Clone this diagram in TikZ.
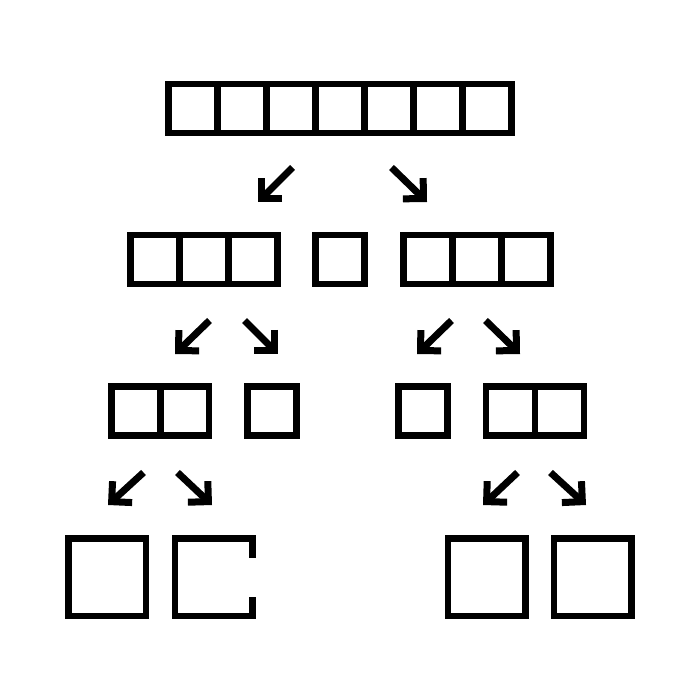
\documentclass[tikz,border=0pt]{standalone}
\usetikzlibrary{arrows.meta,calc}
\tikzset{
  cell/.style={draw=black, line width=6.5pt, minimum width=49pt, minimum height=49pt, inner sep=0pt, outer sep=0pt, line join=miter},
  bigcell/.style={cell, minimum width=77.5pt, minimum height=77.5pt},
  bigopen/.style={bigcell, draw=none},
  arr/.style={line width=7pt, line cap=butt, -{Straight Barb[length=14.5pt, width=29pt, line width=7pt, line join=miter, line cap=butt]}}
}
\begin{document}
\begin{tikzpicture}[x=1pt, y=-1pt]
\useasboundingbox[fill=white] (0,0) rectangle (700,700);
% top row
\foreach \i [count=\k] in {193,242,291,340,389,438,487} {
  \node[cell] (t\k) at (\i,108.5) {};
}
% row 2
\node[cell] (l1) at (154.75,259.5) {};
\node[cell] (l2) at (203.75,259.5) {};
\node[cell] (l3) at (252.75,259.5) {};
\node[cell] (m1) at (340,259.5) {};
\node[cell] (r1) at (427.75,259.5) {};
\node[cell] (r2) at (476.75,259.5) {};
\node[cell] (r3) at (525.75,259.5) {};
% row 3
\node[cell] (ll1) at (135.75,411) {};
\node[cell] (ll2) at (184.5,411) {};
\node[cell] (lr1) at (272,411) {};
\node[cell] (rl1) at (423,411) {};
\node[cell] (rr1) at (510.6,411) {};
\node[cell] (rr2) at (559.4,411) {};
% row 4
\node[bigcell] (b1) at (107,577) {};
\node[bigopen] (b2) at (213.5,577) {};
\node[bigcell] (b3) at (486.5,577) {};
\node[bigcell] (b4) at (592.5,577) {};
\draw[line width=6.5pt, line join=miter, line cap=butt]
  ($(b2.east)+(0,-19.5)$) -- (b2.north east) -- (b2.north west) -- (b2.south west) -- (b2.south east) -- ($(b2.east)+(0,19.5)$);
% arrows
\coordinate (s1) at (292.5,167.5); \coordinate (e1) at (258,202);
\coordinate (s2) at (391.5,167.5); \coordinate (e2) at (427,202);
\coordinate (s3) at (209.5,320.5); \coordinate (e3) at (175,354);
\coordinate (s4) at (244.5,320.5); \coordinate (e4) at (278,354);
\coordinate (s5) at (451.5,320.5); \coordinate (e5) at (417,354);
\coordinate (s6) at (485.5,320.5); \coordinate (e6) at (520,354);
\coordinate (s7) at (143.5,472.5); \coordinate (e7) at (108,505);
\coordinate (s8) at (177.5,472.5); \coordinate (e8) at (212,505);
\coordinate (s9) at (517.5,472.5); \coordinate (e9) at (483,505);
\coordinate (s10) at (550.5,472.5); \coordinate (e10) at (586,505);
\foreach \n in {1,...,10} { \draw[arr] (s\n) -- (e\n); }
\end{tikzpicture}
\end{document}
